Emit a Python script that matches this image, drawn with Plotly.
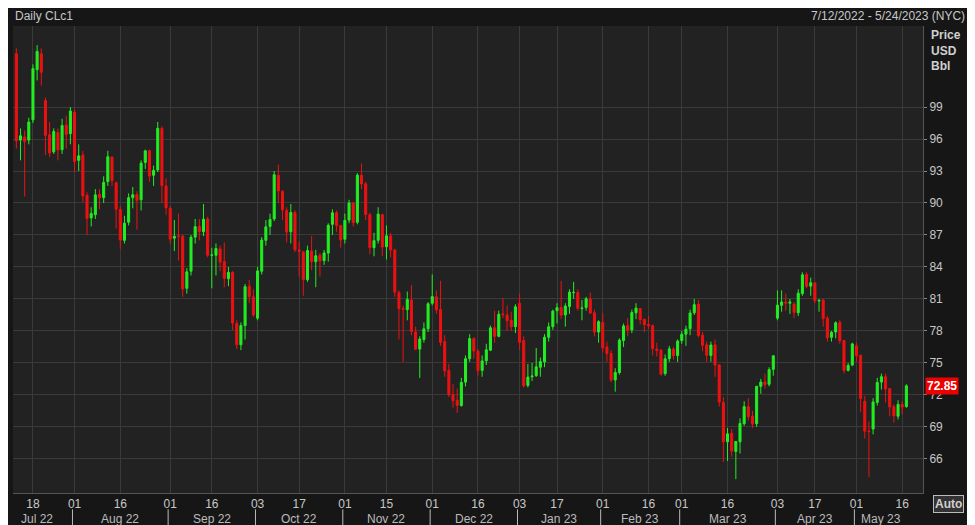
import pandas as pd
import plotly.graph_objects as go

holidays = ["2022-09-05","2022-11-24","2022-12-26","2023-01-02","2023-01-16","2023-02-20","2023-04-07"]
dates = [d for d in pd.bdate_range("2022-07-12","2023-05-17") if d.strftime("%Y-%m-%d") not in holidays]
dates = [d.strftime("%Y-%m-%d") for d in dates]

opens = [104.0,95.9,96.2,95.9,97.8,102.5,104.0,99.6,96.4,94.8,96.6,95.0,97.3,96.5,
98.5,94.0,94.5,90.7,88.6,88.9,90.8,90.5,92.0,94.3,91.9,89.4,86.5,88.2,90.5,90.8,90.3,93.8,94.9,92.6,93.1,97.0,91.6,
89.5,86.7,86.9,86.9,82.0,83.6,86.8,87.8,87.3,88.5,85.1,85.1,85.7,84.5,82.9,83.5,78.7,76.7,78.5,82.2,81.2,
79.2,83.6,86.5,87.8,88.5,92.6,91.1,89.3,87.3,89.1,85.6,85.4,82.8,85.5,84.5,85.1,84.6,85.3,88.0,89.1,87.9,
86.6,88.4,90.0,88.2,92.6,91.8,88.9,85.8,86.5,88.9,85.9,86.9,85.6,81.6,80.1,80.0,80.9,77.9,76.3,77.2,78.2,
80.6,81.2,80.0,77.0,74.3,72.0,71.5,71.0,73.2,75.4,77.3,76.1,74.3,75.2,76.2,78.3,77.5,79.6,79.5,79.0,78.4,
80.6,77.1,72.9,73.7,73.8,74.6,75.1,77.4,78.4,79.9,80.2,79.5,80.3,81.6,81.6,80.1,80.2,81.0,79.7,77.9,
78.8,76.5,75.9,73.4,74.1,77.1,78.5,78.1,79.7,80.1,79.1,78.6,78.5,76.3,76.2,74.0,75.4,76.3,75.7,
77.1,77.7,78.2,79.7,80.5,77.6,76.7,75.7,76.7,74.8,71.3,67.6,68.4,66.7,67.6,69.3,70.9,70.0,69.3,72.8,73.2,73.0,74.4,
79.2,80.4,80.7,80.6,80.5,79.7,81.5,83.3,82.2,82.5,80.8,80.9,79.2,77.4,77.9,78.8,77.1,74.3,74.8,
76.6,75.7,71.4,68.6,68.8,71.3,73.2,73.7,72.6,70.9,70.0,71.1,70.9]
highs = [104.5,97.0,96.8,98.0,103.0,104.8,104.5,99.9,97.6,97.0,97.0,97.9,98.2,99.0,
98.8,95.5,94.9,91.0,89.6,91.3,91.3,92.5,94.9,94.4,92.0,89.7,88.8,90.9,91.5,91.1,94.0,95.0,95.0,93.5,97.6,97.2,92.3,
89.7,88.4,89.0,87.0,83.9,87.0,88.5,88.5,89.9,88.7,85.8,86.2,86.0,86.3,84.0,83.6,79.0,78.8,82.4,82.8,81.9,
84.0,86.8,88.4,89.0,93.0,93.6,91.2,89.6,89.9,89.3,86.4,85.5,86.0,86.9,85.6,85.3,85.6,88.1,89.4,89.3,87.9,
89.0,90.3,90.1,92.8,93.7,92.0,89.1,87.2,89.6,89.0,87.9,87.2,85.7,81.8,80.4,81.7,82.3,78.4,77.5,78.8,80.7,
83.3,81.8,82.7,77.6,74.9,73.0,72.6,73.6,75.7,77.7,77.4,76.3,75.7,76.8,78.5,79.9,79.9,81.1,80.4,79.8,80.5,
81.5,77.5,74.9,75.0,76.4,75.5,77.7,78.8,80.0,80.6,82.7,80.6,81.9,82.6,81.9,80.9,81.2,81.6,80.0,79.0,
79.7,77.0,76.2,74.5,77.3,78.7,79.2,80.0,80.6,80.0,79.1,79.4,78.6,76.9,76.3,75.8,76.6,76.5,77.2,
78.0,78.5,80.0,81.0,80.9,77.9,77.0,77.0,77.2,74.9,71.8,68.9,68.8,67.4,69.8,71.4,71.7,70.5,72.8,73.5,74.0,74.6,75.7,
81.8,81.8,81.5,81.0,80.7,81.9,83.5,83.5,83.0,82.6,81.0,81.0,79.4,78.0,78.9,79.0,77.1,75.0,76.9,
76.9,75.8,71.9,69.5,71.7,73.6,74.0,74.0,72.6,71.1,71.5,71.4,73.0]
lows = [95.1,94.0,90.6,95.5,97.5,101.5,101.0,94.5,94.3,94.6,94.0,94.6,95.1,95.5,
92.9,93.0,90.1,87.0,87.8,88.5,89.4,90.0,91.6,91.6,87.6,85.7,86.2,87.9,89.5,87.5,89.3,93.2,92.0,91.6,92.9,90.0,88.9,
86.2,85.5,84.6,81.2,81.5,83.2,86.2,86.5,86.9,84.9,82.0,83.2,83.6,82.1,82.2,78.1,76.3,76.2,77.2,80.6,79.3,
79.0,83.3,86.0,87.0,88.3,90.0,88.4,86.3,86.2,85.4,83.1,81.3,82.6,83.7,82.1,83.1,84.2,84.5,87.0,87.3,85.8,
86.2,88.1,87.8,88.0,91.3,88.4,85.2,85.0,86.2,85.0,84.7,84.9,81.2,77.2,75.1,79.0,77.6,76.2,73.6,76.9,77.9,
80.4,79.6,76.6,73.7,71.8,70.8,70.3,70.9,72.8,75.1,75.4,73.8,73.7,74.8,76.1,76.9,77.4,79.2,78.0,78.0,77.8,
76.2,72.7,72.7,73.3,73.7,73.7,74.6,77.0,78.1,78.7,79.1,78.4,79.6,81.0,79.9,79.0,79.9,79.6,77.5,76.9,
76.0,75.1,73.2,72.3,73.9,76.5,77.5,77.8,79.1,78.6,77.9,78.2,75.7,75.6,73.8,73.8,75.1,75.3,75.1,
76.8,76.6,77.6,79.5,77.4,76.1,75.1,75.1,73.7,70.9,65.7,65.8,66.2,64.1,66.5,69.1,69.6,68.9,69.0,72.1,72.6,72.8,73.8,
79.0,79.8,79.9,79.6,79.2,79.4,81.3,82.0,81.3,80.6,79.8,78.4,77.0,77.0,77.3,76.8,74.0,74.2,74.7,
75.1,70.4,67.9,64.3,68.3,71.0,72.5,71.3,70.0,69.4,69.7,70.2,70.8]
closes = [95.84,96.30,95.78,97.59,102.60,104.22,102.26,96.35,94.70,96.70,94.98,97.26,96.42,98.62,
93.89,94.42,90.66,88.54,89.01,90.76,90.50,91.93,94.34,92.09,89.41,86.53,88.11,90.50,90.77,90.23,93.74,94.89,92.52,93.06,97.01,91.64,89.55,
86.61,86.87,86.88,81.94,83.54,86.79,87.78,87.31,88.48,85.10,85.11,85.73,84.45,82.94,83.49,78.74,76.71,78.50,82.15,81.23,79.49,
83.63,86.52,87.76,88.45,92.64,91.13,89.35,87.27,89.11,85.61,85.46,82.82,85.55,84.51,85.05,84.58,85.32,87.91,89.08,87.90,86.53,
88.37,90.00,88.17,92.61,91.79,88.91,85.83,86.47,88.96,85.87,86.92,85.59,81.64,80.08,80.04,80.95,77.94,76.28,77.24,78.20,80.55,
81.22,79.98,76.93,74.25,72.01,71.46,71.02,73.17,75.39,77.28,76.11,74.29,75.19,76.23,78.29,77.49,79.56,79.53,78.96,78.40,80.26,
76.93,72.84,73.67,73.77,74.63,75.12,77.41,78.39,79.86,80.18,79.48,80.33,81.64,81.62,80.13,80.15,81.01,79.68,77.90,78.87,
76.41,75.88,73.39,74.11,77.14,78.47,78.06,79.72,80.14,79.06,78.59,78.49,76.34,76.16,73.95,75.39,76.32,75.68,77.05,
77.69,78.16,79.68,80.46,77.58,76.66,75.72,76.68,74.80,71.33,67.61,68.35,66.74,67.64,69.33,70.90,69.96,69.26,72.81,73.20,72.97,74.37,75.67,
80.42,80.71,80.61,80.70,79.74,81.53,83.26,82.16,82.52,80.83,80.86,79.16,77.37,77.87,78.76,77.07,74.30,74.76,76.78,
75.66,71.66,68.60,68.56,71.34,73.16,73.71,72.56,70.87,70.04,71.11,70.86,72.85]

day_ticks = ["2022-07-18","2022-08-01","2022-08-16","2022-09-01","2022-09-16","2022-10-03","2022-10-17",
             "2022-11-01","2022-11-15","2022-12-01","2022-12-16","2023-01-03","2023-01-17","2023-02-01",
             "2023-02-16","2023-03-01","2023-03-16","2023-04-03","2023-04-17","2023-05-01","2023-05-16"]
month_labels = ["Jul 22","Aug 22","Sep 22","Oct 22","Nov 22","Dec 22","Jan 23","Feb 23","Mar 23","Apr 23","May 23"]
y_ticks = [66,69,72,75,78,81,84,87,90,93,96,99]
last_price = 72.85

idx = {d: i for i, d in enumerate(dates)}
fig = go.Figure(go.Candlestick(
    x=list(range(len(dates))), open=opens, high=highs, low=lows, close=closes,
    increasing=dict(line=dict(color="#22ee22", width=1), fillcolor="#22ee22"),
    decreasing=dict(line=dict(color="#ee1111", width=1), fillcolor="#ee1111"),
    whiskerwidth=0, hoverinfo="skip"))

grid = "#3a3a3a"
months = sorted(set(d[:7] for d in dates))
shapes, annots = [], []
for k, m in enumerate(months):
    ms = [idx[d] for d in dates if d.startswith(m)]
    start = ms[0]
    if k > 0:
        shapes.append(dict(type="line", xref="x", yref="paper", x0=start-0.5, x1=start-0.5,
                           y0=-0.075, y1=-0.035, line=dict(color="#bbbbbb", width=1)))
    mid = (ms[0] + ms[-1]) / 2 if k < len(months)-1 else ms[0] + 6
    if k == 0:
        mid = 5
    annots.append(dict(x=mid, y=0, xref="x", yref="paper", yshift=-26, text=month_labels[k], showarrow=False,
                       yanchor="middle", font=dict(color="#bbbbbb", size=12, family="Arial")))

annots += [
    dict(x=0, y=1.0, xref="paper", yref="paper", xanchor="left", yanchor="bottom", yshift=1,
         text="Daily CLc1", showarrow=False, font=dict(color="#c8c8c8", size=12, family="Arial")),
    dict(x=1.0, y=1.0, xref="paper", yref="paper", xanchor="right", yanchor="bottom", yshift=1, xshift=44,
         text="7/12/2022 - 5/24/2023 (NYC)", showarrow=False, font=dict(color="#c8c8c8", size=12, family="Arial")),
    dict(x=1.0, y=1.0, xref="paper", yref="paper", xanchor="left", yanchor="top", xshift=6, align="left",
         text="<b>Price<br>USD<br>Bbl</b>", showarrow=False, font=dict(color="#d0d0d0", size=12, family="Arial")),
    dict(x=1.0, y=last_price, xref="paper", yref="y", xanchor="left", xshift=2, text="<b>72.85</b>",
         showarrow=False, bgcolor="#ee0000", font=dict(color="white", size=12, family="Arial"), borderpad=1),
    dict(x=1.0, y=0.0, xref="paper", yref="paper", xanchor="left", yanchor="top", xshift=10, yshift=-2,
         text="<b>Auto</b>", showarrow=False, bgcolor="#333333", bordercolor="#bbbbbb", borderwidth=1,
         font=dict(color="#d0d0d0", size=12, family="Arial")),
]

fig.update_layout(
    width=975, height=525, margin=dict(l=5, r=60, t=18, b=40),
    paper_bgcolor="#161616", plot_bgcolor="#222222", showlegend=False,
    xaxis=dict(range=[-0.8, len(dates)+3], rangeslider=dict(visible=False),
               tickvals=[idx[d] for d in day_ticks], ticktext=[d[-2:] for d in day_ticks],
               showgrid=True, gridcolor=grid, zeroline=False, tickfont=dict(color="#c8c8c8", size=12, family="Arial"),
               ticks="", ticklabelstandoff=0, showline=True, linecolor="#555"),
    yaxis=dict(side="right", range=[62.8, 106.6], tickvals=y_ticks, showgrid=True, gridcolor=grid,
               zeroline=False, tickfont=dict(color="#c8c8c8", size=12, family="Arial"),
               ticks="outside", ticklen=3, tickcolor="#888", showline=True, linecolor="#555"),
    shapes=shapes, annotations=annots)

fig.write_html("out.html")
